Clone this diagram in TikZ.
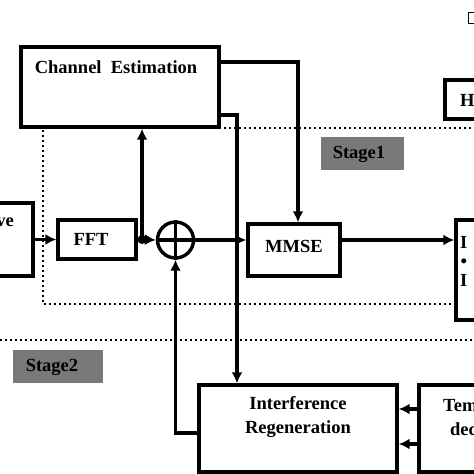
\documentclass[tikz,border=0pt]{standalone}
\usepackage{fontspec}
\setmainfont{Liberation Serif}
\usepackage{tikz}
\usetikzlibrary{arrows.meta}

\tikzset{
  blk/.style={draw,line width=3.4pt,fill=white,inner sep=0pt},
  txt/.style={font=\bfseries\fontsize{18.5}{22}\selectfont,inner sep=0pt,align=center},
  stagebox/.style={fill=gray!95!black,minimum width=83pt,minimum height=33pt,inner sep=0pt},
  conn/.style={line width=3.2pt},
  dotline/.style={line width=2.4pt,dash pattern=on 2.2pt off 2.8pt}
}

\begin{document}
\begin{tikzpicture}[x=1pt,y=-1pt,>={Latex[length=11pt,width=11pt]}]
\useasboundingbox (0,0) rectangle (474,474);
\clip (0,0) rectangle (474,474);
\fill[white] (0,0) rectangle (474,474);

% stage borders
\draw[dotline] (456,304) -| (43,128) -- (480,128);
\draw[dotline] (0,340) -- (480,340);

% blocks
\node[blk,minimum width=198pt,minimum height=80pt] (ce) at (120,87) {};
\node[txt] (cetxt) at (116,67) {Channel~~Estimation};
\node[blk,minimum width=53pt,minimum height=73pt] (lbox) at (6.5,239.5) {};
\node[txt,anchor=east] (lboxtxt) at (14,222) {ve};
\node[blk,minimum width=78pt,minimum height=39pt] (fft) at (97,239.5) {};
\node[txt] (ffttxt) at (91,239) {FFT};
\node[blk,circle,minimum size=36pt] (adder) at (175.5,240) {};
\draw[conn] (adder.north) -- (adder.south) (adder.west) -- (adder.east);
\node[blk,minimum width=92pt,minimum height=52pt] (mmse) at (294,250) {};
\node[txt] (mmsetxt) at (294,246) {MMSE};
\node[blk,minimum width=34pt,minimum height=100pt] (rbox) at (473,270) {};
\node[txt,anchor=west] (rboxtxt) at (460,261) {I\\[-3pt]•\\[-3pt]I};
\node[blk,minimum width=45pt,minimum height=39pt] (hbox) at (467.5,99.5) {};
\node[txt,anchor=west] (hboxtxt) at (460,100) {H};
\draw[line width=1pt] (490,12) -| (468,23) -- (490,23);
\node[blk,minimum width=198pt,minimum height=87pt] (ir) at (298,428.5) {};
\node[txt] (irtxt) at (298,417) {Interference\\[2pt]Regeneration};
\node[blk,minimum width=71pt,minimum height=87pt] (tem) at (454.5,428.5) {};
\node[txt,anchor=west] (temtxt1) at (443,406) {Tem};
\node[txt,anchor=west] (temtxt2) at (450,429) {dec};

% stage labels
\node[stagebox] (st1) at (362.5,153.5) {};
\node[txt] (st1txt) at (359,154) {Stage1};
\node[stagebox,minimum width=90pt] (st2) at (58,366.5) {};
\node[txt] (st2txt) at (52,367) {Stage2};

% connectors
\coordinate (tap) at (142,239.5);
\coordinate (k1) at (298,62);
\coordinate (k2) at (237,115);
\coordinate (k3) at (175.5,433);
\draw[conn,->] (lbox.east) -- (fft.west);
\draw[conn] (fft.east) -- (tap);
\fill (tap) circle (4.5pt);
\draw[conn,->] (tap) -- (adder.west);
\draw[conn,->] (tap) -- (tap |- ce.south);
\draw[conn,->] (adder.east) -- (adder.east -| mmse.west);
\draw[conn,->] (ce.east |- k1) -- (k1) -- (k1 |- mmse.north);
\draw[conn,->] (ce.east |- k2) -- (k2) -- (k2 |- ir.north);
\draw[conn,->] (k3 -| ir.west) -- (k3) -- (adder.south);
\draw[conn,->] (mmse.east |- adder.east) -- (adder.east -| rbox.west);
\draw[conn,->] ([yshift=19.5pt]tem.west) -- ([yshift=19.5pt]ir.east);
\draw[conn,->] ([yshift=-15.5pt]tem.west) -- ([yshift=-15.5pt]ir.east);
\end{tikzpicture}
\end{document}
